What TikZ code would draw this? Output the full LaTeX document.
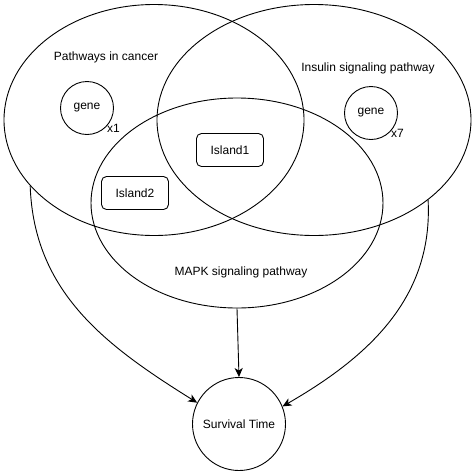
\documentclass[tikz,border=0pt]{standalone}
\usepackage{fontspec}
\setmainfont{Liberation Sans}
\usepackage{tikz}
\usetikzlibrary{positioning,arrows.meta,shapes.geometric}

\begin{document}
\begin{tikzpicture}[
  x=1pt, y=-1pt,
  >={Stealth[length=9pt,width=8pt,inset=2.5pt]},
  every node/.style={font=\fontsize{12}{14}\selectfont},
  line width=0.9pt,
  pathset/.style={draw, ellipse, inner sep=0pt},
  gene/.style={draw, circle, minimum size=53pt, inner sep=0pt},
  island/.style={draw, rounded corners=5pt, minimum width=67pt,
                 minimum height=33pt, inner sep=0pt},
  flow/.style={->},
]
\useasboundingbox (0,0) rectangle (474,475);

% pathway sets
\node[pathset, minimum width=300pt, minimum height=231pt] (cancer)  at (154,120) {};
\node[pathset, minimum width=314pt, minimum height=231pt] (insulin) at (314,120) {};
\node[pathset, minimum width=292pt, minimum height=210pt] (mapk)    at (237,203) {};

\node (cancerlbl)  at (106,57)  {Pathways in cancer};
\node (insulinlbl) at (368,68)  {Insulin signaling pathway};
\node (mapklbl)    at (241,272) {MAPK signaling pathway};

% genes and islands
\node[gene, label={[inner sep=0pt, label distance=-2pt]-38:x1}] (genea) at (87,108)  {gene};
\node[gene, label={[inner sep=0pt, label distance=-2pt]-38:x7}] (geneb) at (371,113) {gene};
\node[island] (island1) at (230,150) {Island1};
\node[island] (island2) at (135,193) {Island2};

% outcome
\node[draw, circle, minimum size=93pt, inner sep=0pt] (surv) at (239,424) {Survival Time};

\draw[flow] (mapk.south) -- (surv.north);
\draw[flow] (cancer.208) to[out=-88, in=148] (surv.153);
\draw[flow] (insulin.325.6) to[out=-87, in=30] (surv.22);
\end{tikzpicture}
\end{document}
